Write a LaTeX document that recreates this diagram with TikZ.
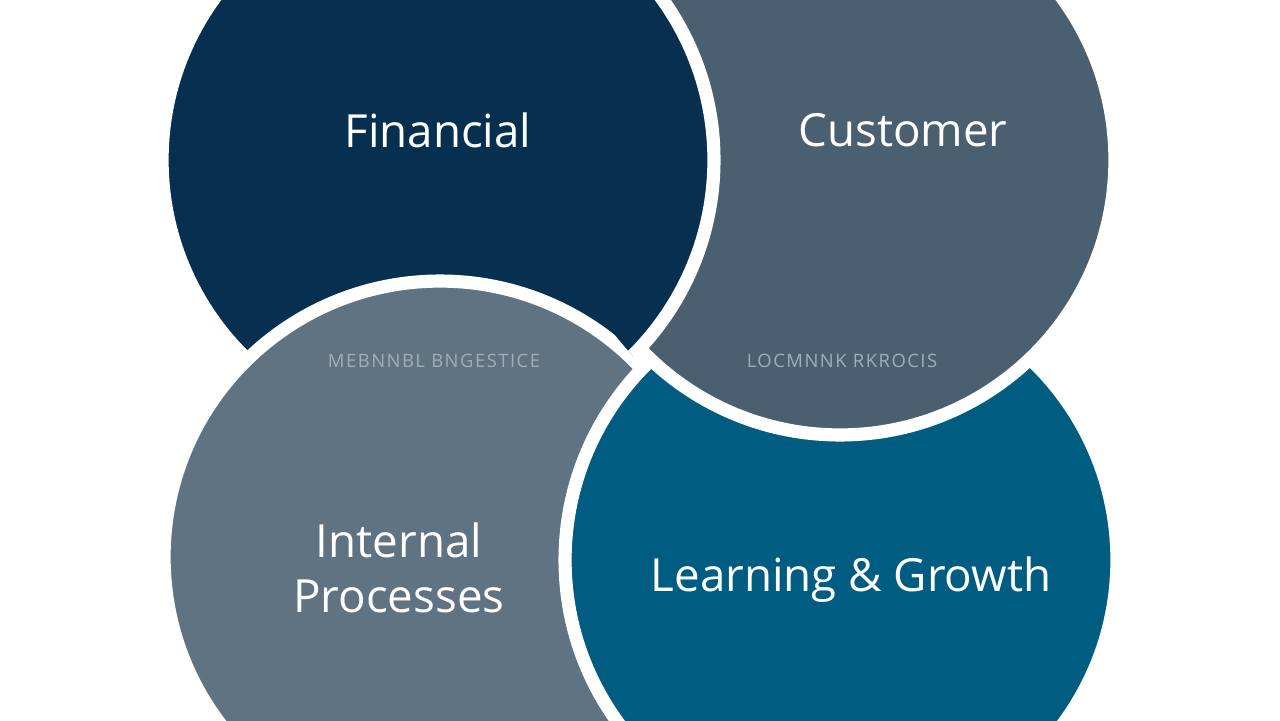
\documentclass[tikz,border=0pt]{standalone}
\usepackage{fontspec}
\setmainfont{Open Sans}
\usetikzlibrary{positioning}
\definecolor{finblue}{RGB}{7,47,80}
\definecolor{custgray}{RGB}{74,95,112}
\definecolor{intgray}{RGB}{96,115,130}
\definecolor{learnteal}{RGB}{0,93,129}
\definecolor{faint}{RGB}{160,174,186}
\tikzset{
	disc/.style={draw=white, line width=7.5pt},
	title/.style={text=white, font=\fontsize{26}{31}\selectfont, align=center},
	ghost/.style={text=faint, font=\fontsize{10.5}{12}\selectfont\addfontfeature{LetterSpace=8}}
}

\begin{document}
\begin{tikzpicture}[x=0.02cm,y=-0.02cm]
		\useasboundingbox (0,0) rectangle (1280,720);
		\fill[white] (0,0) rectangle (1280,720);
		\coordinate (cF) at (438,160);
		\coordinate (cC) at (840,160);
		\coordinate (cI) at (440,557);
		\coordinate (cL) at (841,560);
		\begin{scope}
		\clip (0,0) rectangle (1280,720);
		\filldraw [disc, fill=finblue] (cF) circle (5.52cm);
		\filldraw [disc, fill=intgray] (cI) circle (5.52cm);
		\filldraw [disc, fill=learnteal] (cL) circle (5.52cm);
		\filldraw [disc, fill=custgray] (cC) circle (5.5cm);
		%financial lies over customer again
		\begin{scope}
		\clip (cC) circle (5.7cm);
		\clip (0,0) rectangle (1280,355);
		\filldraw [disc, fill=finblue] (cF) circle (5.52cm);
		\end{scope}
		\end{scope}
		\node [title] (fin) at (438,130) {Financial};
		\node [title] (cust) at (903,130) {Customer};
		\node [title] (int) at (399,568) {Internal\\Processes};
		\node [title] (learn) at (851,580) {Learning \& Growth};
		\node [ghost] (g1) at (434,361) {MEBNNBL BNGESTICE};
		\node [ghost] (g2) at (842,361) {LOCMNNK RKROCIS};
	\end{tikzpicture}
\end{document}
